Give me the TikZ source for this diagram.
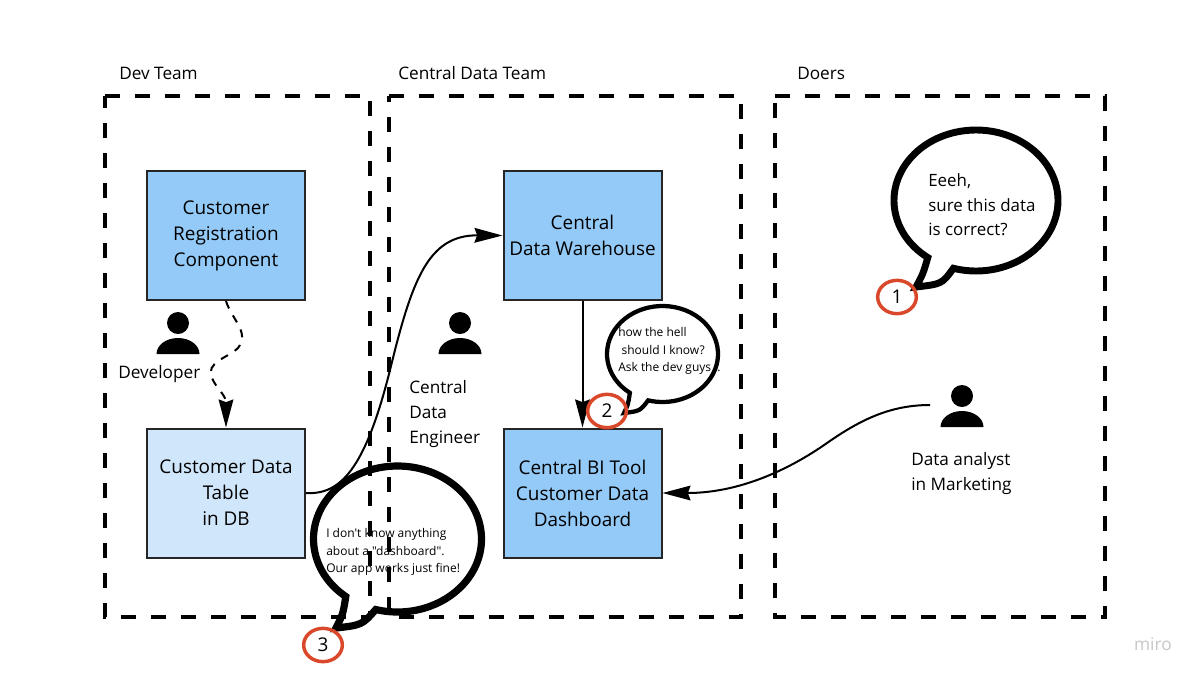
\documentclass[tikz,border=0pt]{standalone}
\usepackage{fontspec}
\setmainfont{Open Sans}
\newfontfamily\speechFont{Open Sans}
\usetikzlibrary{arrows.meta,shapes.geometric,calc}
\definecolor{boxBlue}{HTML}{93CAF7}
\definecolor{boxLight}{HTML}{D0E7FB}
\definecolor{markRed}{HTML}{D9482B}
\def\boxW{118.5pt}
\def\boxH{96.75pt}
\tikzset{
  blueBox/.style={
    draw=black!85,
    line width=1.5pt,
    fill=boxBlue,
    minimum width=\boxW,
    minimum height=\boxH,
    align=center,
    font=\fontsize{14.2}{19.5}\selectfont
  },
  lightBox/.style={blueBox,fill=boxLight},
  teamBox/.style={draw=black,line width=3pt,dash pattern=on 11.25pt off 11.25pt},
  flowArrow/.style={
    draw=black,
    line width=1.5pt,
    -{Stealth[length=21pt,width=11pt,inset=2pt]}
  },
  bubbleLine/.style={draw=black,line join=miter,miter limit=3,fill=white},
  teamLabel/.style={anchor=west,inner sep=0pt,font=\fontsize{12.9}{18.75}\selectfont},
  personLabel/.style={anchor=west,inner sep=0pt,align=left,font=\fontsize{12.9}{18.75}\selectfont},
  bigSpeech/.style={anchor=west,inner sep=0pt,align=left,font=\fontsize{12.7}{18.4}\selectfont},
  smallSpeech/.style={anchor=west,inner sep=0pt,align=left,font=\speechFont\fontsize{9}{13}\selectfont},
  markCircle/.style={
    draw=markRed,
    line width=2.6pt,
    ellipse,
    inner sep=0pt,
    minimum width=29pt,
    minimum height=25pt,
    font=\fontsize{14.2}{17}\selectfont
  },
  person/.pic={
    \fill (0,0) circle[radius=11];
    \fill (-21.5,31) arc[start angle=180,end angle=360,x radius=21.5,y radius=16] -- cycle;
  }
}

\begin{document}
\begin{tikzpicture}[x=0.75pt,y=-0.75pt]
  \useasboundingbox[fill=white] (0,0) rectangle (1200,676);

  \node[blueBox] (registration) at (226,235.5) {Customer\\Registration\\Component};
  \node[blueBox] (warehouse) at (582.5,235.5) {Central\\Data Warehouse};
  \node[lightBox] (table) at (226,493) {Customer Data\\Table\\in DB};
  \node[blueBox] (dashboard) at (582.5,493) {Central BI Tool\\Customer Data\\Dashboard};

  \pic at (178,323) {person};
  \pic at (460,323) {person};
  \pic at (962,396) {person};

  \coordinate (analystEnd) at (930,405);

  \draw[flowArrow,dash pattern=on 6pt off 6pt] (registration.south) .. controls (232,320) and (250,332) .. (238,348)
    .. controls (228,358) and (205,362) .. (212,378)
    .. controls (216,388) and (226,395) .. (table.north);
  \draw[flowArrow] (warehouse.south) -- (dashboard.north -| warehouse.south);
  \draw[flowArrow] (table.east) .. controls (340,495) and (365,470) .. (390,370)
    .. controls (412,280) and (428,235) .. (warehouse.west);
  \draw[flowArrow] (analystEnd) .. controls (890,405) and (860,420) .. (827,443)
    .. controls (790,469) and (740,493) .. (dashboard.east);

  \draw[bubbleLine,line width=5.2pt] ($(976,200.5)+(126:82 and 70.5)$)
    arc[start angle=126,end angle=466,x radius=82,y radius=70.5]
    .. controls (942,284) .. (916,287) .. controls (923,274) .. cycle;
  \draw[bubbleLine,line width=3.2pt] ($(662.5,354)+(126:55.5 and 48)$)
    arc[start angle=126,end angle=465,x radius=55.5,y radius=48]
    .. controls (640,411) .. (624,413) .. controls (628,405) .. cycle;
  \draw[bubbleLine,line width=5.4pt] ($(397.5,539)+(128:84 and 73)$)
    arc[start angle=128,end angle=465,x radius=84,y radius=73]
    .. controls (362,625) .. (336,628) .. controls (343,614) .. cycle;

  \draw[teamBox] (105,96) -- (370,96) -- (370,617) -- (105,617) -- cycle;
  \draw[teamBox] (389,96) -- (741,96) -- (741,617) -- (389,617) -- cycle;
  \draw[teamBox] (775,96) -- (1105,96) -- (1105,617) -- (775,617) -- cycle;

  \node[teamLabel] (devTeam) at (119,73) {Dev Team};
  \node[teamLabel] (dataTeam) at (398,73) {Central Data Team};
  \node[teamLabel] (doers) at (797,73) {Doers};

  \node[personLabel] (developer) at (118,374) {Developer};
  \node[personLabel] (engineer) at (409,414) {Central\\Data\\Engineer};
  \node[personLabel] (analyst) at (911,474) {Data analyst\\in Marketing};

  \node[bigSpeech] (speechOne) at (928,205) {Eeeh,\\sure this data\\is correct?};
  \node[smallSpeech] (speechTwo) at (618,351) {how the hell\\\hspace*{2.5pt}should I know?\\Ask the dev guys ..};
  \node[smallSpeech] (speechThree) at (326,552) {I don't know anything\\about a "dashboard".\\Our app works just fine!};

  \node[markCircle] (markOne) at (897,297) {1};
  \node[markCircle] (markTwo) at (607,411) {2};
  \node[markCircle] (markThree) at (323,645) {3};

  \node[anchor=east,inner sep=0pt,text=black!22,font=\fontsize{13}{15}\selectfont] (miro) at (1172,644) {miro};
\end{tikzpicture}
\end{document}
